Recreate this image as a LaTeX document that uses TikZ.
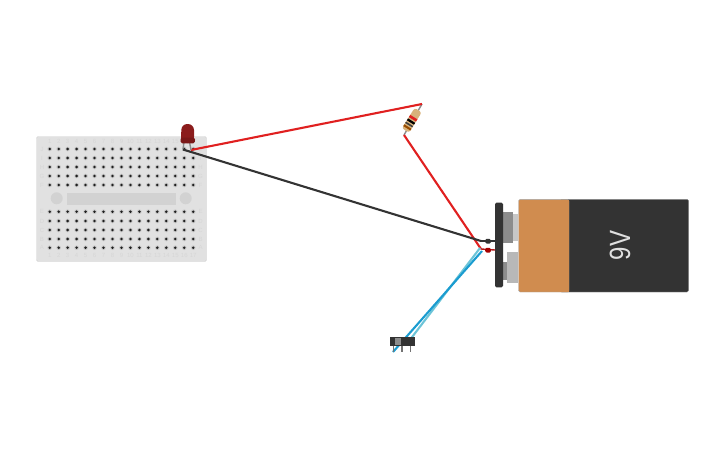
\documentclass[tikz,border=0pt]{standalone}
\usepackage{fontspec}
\usepackage{graphicx}
\setmainfont{Liberation Sans}
\definecolor{wred}{HTML}{E02020}
\definecolor{wblack}{HTML}{333333}
\definecolor{bb}{HTML}{E1E1E1}
\definecolor{bbd}{HTML}{D2D2D2}
\definecolor{bblabel}{HTML}{D6D6D6}
\definecolor{orangeb}{HTML}{D08C4F}
\definecolor{batt}{HTML}{333333}
\definecolor{ledc}{HTML}{8B1C1C}
\definecolor{ledd}{HTML}{7A1818}
\definecolor{wblue}{HTML}{1A9CD0}
\definecolor{wlblue}{HTML}{6CC4D8}
\definecolor{restan}{HTML}{D8B27A}
\tikzset{
 wirered/.style={draw=wred,line width=2.1pt},
 wireblack/.style={draw=wblack,line width=2.1pt},
 legline/.style={draw=black!45,line width=1.4pt},
 bbl/.style={text=bblabel,font=\fontsize{6}{6}\selectfont,inner sep=0pt}
}
\begin{document}
\begin{tikzpicture}[x=1pt,y=-1pt]
\useasboundingbox (0,0) rectangle (725,453);
% breadboard
\fill[bb,rounded corners=1.5pt,draw=bbd,line width=.4pt] (36.5,136.5) rectangle (206.5,261.5);
\fill[bbd] (67,193) rectangle (175.5,204.5);
\fill[bbd] (56.7,198.3) circle (6);
\fill[bbd] (185.7,198.3) circle (6);
\foreach \i in {0,...,16}{
 \pgfmathsetmacro\xx{49.7+8.97*\i}
 \pgfmathtruncatemacro\num{\i+1}
 \node[bbl] at (\xx,141.5) {\num};
 \node[bbl] at (\xx,255.5) {\num};
 \foreach \yy in {149,158,167,176,185,211.7,221,230,239,247.7}{
  \fill[black!22] (\xx,\yy) circle (2.3);
  \fill[black!88] (\xx,\yy) circle (1.4);
 }
}
\foreach \l/\yy in {J/149,I/158,H/167,G/176,F/185,E/211.7,D/221,C/230,B/239,A/247.7}{
 \node[bbl] at (42,\yy) {\l};
 \node[bbl] at (200.5,\yy) {\l};
}
% battery
\fill[batt,rounded corners=1.5pt,draw=black!45,line width=.4pt] (560,199.3) rectangle (688.7,292);
\fill[orangeb,rounded corners=1.5pt,draw=black!35,line width=.4pt] (518.5,199.3) rectangle (569,292);
\fill[orangeb] (560,199.6) rectangle (569,291.7);
\fill[black!22] (513,214) rectangle (518.3,241);
\fill[black!45] (503,211.7) rectangle (513,242.7);
\fill[black!28] (507,251.7) rectangle (518.3,283);
\fill[black!45] (503,262) rectangle (507,280);
\fill[batt,rounded corners=1.5pt] (495,202.7) rectangle (503,287.3);
\node[text=black!12,font=\fontsize{24}{24}\selectfont,rotate=90,inner sep=0pt] (lbl) at (620,245.5) {\scalebox{1}[1.22]{9V}};
% coordinates
\coordinate (ledA) at (183,149.5);
\coordinate (ledC) at (191,150);
\coordinate (resT) at (422,104);
\coordinate (resB) at (404,135);
\coordinate (snapK) at (481,241);
\coordinate (snapR) at (481,249);
\coordinate (swA) at (393,352);
\coordinate (swB) at (406,345);
% wires
\draw[legline] (resT) -- (resB);
\draw[wirered] (ledC) -- (resT);
\draw[wirered] (resB) -- (snapR);
\draw[legline] (ledA) -- (184,142);
\draw[legline] (ledC) -- (189.5,142);
\draw[wireblack] (ledA) -- (snapK);
% switch wires
\draw[wlblue,line width=2.1pt] (480,248) -- (swB);
\draw[wblue,line width=2.1pt] (482,251) -- (swA);
% snap leads
\draw[wblack,line width=1.4pt] (snapK) -- (495,241);
\draw[wred!80!black,line width=1.4pt] (snapR) -- (495,250);
\fill[wblack,rounded corners=1.5pt] (485,238.8) rectangle (491,243.5);
\fill[red!65!black,rounded corners=1.5pt] (485,247.8) rectangle (491,252.5);
% led
\fill[ledc,rounded corners=6pt] (181.3,124) rectangle (194,143);
\fill[ledc] (181.3,132) rectangle (194,140);
\fill[ledd,rounded corners=1.5pt] (180.7,137.5) rectangle (194.8,143.3);
% resistor
\begin{scope}[shift={(411.8,120.3)},rotate=-32]
 \fill[restan,rounded corners=2.5pt] (-4.2,-12) rectangle (4.2,12);
 \fill[wred] (-4.2,-3.8) rectangle (4.2,-1.2);
 \fill[black] (-4.2,0.4) rectangle (4.2,2.6);
 \fill[black!75] (-4.2,4.2) rectangle (4.2,5.8);
 \fill[orange!60!black] (-4.2,7.4) rectangle (4.2,9.4);
\end{scope}
% switch
\fill[black!55] (392.6,346) rectangle (394,352);
\fill[black!55] (401.2,346) rectangle (402.6,352);
\fill[black!55] (409.8,346) rectangle (411.2,352);
\fill[wblack] (390,337) rectangle (414.5,346);
\fill[black!45] (395,338) rectangle (401,345);
\end{tikzpicture}
\end{document}
